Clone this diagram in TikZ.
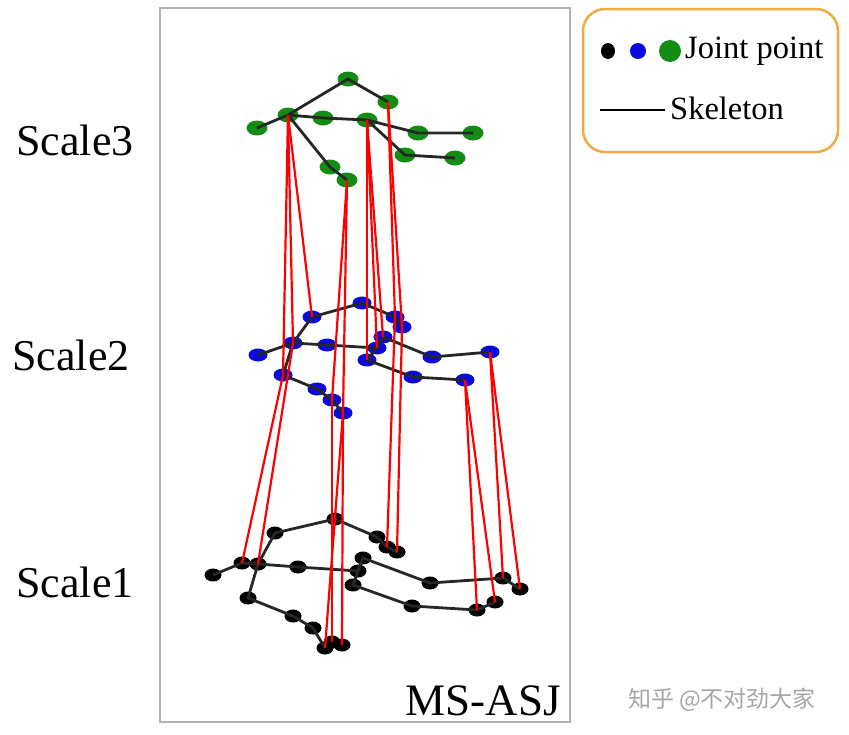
\documentclass[tikz,border=0pt]{standalone}
\usepackage{fontspec}
\setmainfont{Liberation Serif}
\newfontfamily\cjk{Noto Sans CJK SC}
\usetikzlibrary{shapes.geometric}
\definecolor{gj}{RGB}{20,140,20}
\definecolor{bj}{RGB}{10,10,220}
\definecolor{orng}{RGB}{240,170,70}
\tikzset{x=1pt,y=-1pt,
 gdot/.style={ellipse,fill=gj,minimum width=21pt,minimum height=15pt,inner sep=0pt},
 bdot/.style={ellipse,fill=bj,minimum width=19pt,minimum height=13pt,inner sep=0pt},
 kdot/.style={ellipse,fill=black,minimum width=17pt,minimum height=13pt,inner sep=0pt},
 skel/.style={black!85,line width=2.8pt},
 link/.style={red,line width=2.2pt},
 lbl/.style={font=\fontsize{44}{48}\selectfont,anchor=center}}
\begin{document}
\begin{tikzpicture}
\useasboundingbox (0,0) rectangle (849,734);
\draw[black!30,line width=2.5pt] (160,8) rectangle (570,722);
% green
\foreach \n/\x/\y in {g1/348/79,g2/388/102,g3/288/115,g4/257/128,g5/323/118,g6/367/120,g7/418/133,g8/473/133,g9/405/155,g10/455/158,g11/330/167,g12/347/180}
  \node[gdot] (\n) at (\x,\y) {};
% blue
\foreach \n/\x/\y in {b1/362/303,b2/312/317,b3/395/317,b4/402/327,b5/293/343,b6/258/355,b7/327/345,b8/383/337,b9/377/348,b10/367/360,b11/432/357,b12/490/352,b13/413/377,b14/465/380,b15/283/375,b16/317/389,b17/332/400,b18/343/413}
  \node[bdot] (\n) at (\x,\y) {};
% black
\foreach \n/\x/\y in {k1/335/519,k2/275/533,k3/377/537,k4/387/547,k5/397/552,k6/242/563,k7/258/564,k8/213/575,k9/298/567,k10/363/558,k11/358/571,k12/353/585,k13/430/583,k14/503/578,k15/520/589,k16/412/606,k17/477/610,k18/495/602,k19/248/598,k20/293/616,k21/313/628,k22/325/648,k23/342/645,k24/332/642}
  \node[kdot] (\n) at (\x,\y) {};
% skeletons
\draw[skel] (g4.center)--(g3.center)--(g1.center)--(g2.center);
\draw[skel] (g3.center)--(g5.center)--(g6.center)--(g7.center)--(g8.center);
\draw[skel] (g6.center)--(g9.center)--(g10.center);
\draw[skel] (g3.center)--(g11.center)--(g12.center);
\draw[skel] (b6.center)--(b5.center)--(b2.center)--(b1.center)--(b3.center)--(b4.center);
\draw[skel] (b5.center)--(b7.center)--(b9.center)--(b8.center)--(b11.center)--(b12.center);
\draw[skel] (b9.center)--(b10.center)--(b13.center)--(b14.center);
\draw[skel] (b5.center)--(b15.center)--(b16.center)--(b17.center)--(b18.center);
\draw[skel] (k8.center)--(k6.center)--(k7.center)--(k2.center)--(k1.center)--(k3.center)--(k4.center)--(k5.center);
\draw[skel] (k7.center)--(k9.center)--(k11.center)--(k10.center)--(k13.center)--(k14.center)--(k15.center);
\draw[skel] (k11.center)--(k12.center)--(k16.center)--(k17.center)--(k18.center);
\draw[skel] (k7.center)--(k19.center)--(k20.center)--(k21.center)--(k22.center);
% links
\foreach \a/\b in {g3/b15,g3/b5,g3/b2,g12/b17,g12/b18,g6/b10,g6/b9,g6/b8,g2/b3,g2/b4,b15/k6,b5/k7,b18/k22,b18/k23,b17/k24,b3/k4,b4/k5,b14/k17,b14/k18,b12/k14,b12/k15}
  \draw[link] (\a.center)--(\b.center);
% labels
\node[lbl] (s3) at (75,140) {Scale3};
\node[lbl] (s2) at (71,355) {Scale2};
\node[lbl] (s1) at (75,582) {Scale1};
\node[font=\fontsize{45}{48}\selectfont,anchor=south east,inner sep=0pt] (ms) at (561,716) {MS-ASJ};
% legend
\draw[orng,line width=2.5pt,rounded corners=22pt] (583,9) rectangle (838,152);
\node[kdot,minimum width=14pt,minimum height=16pt] (lk) at (608,51) {};
\node[bdot,minimum width=16pt,minimum height=16pt] (lb) at (638,51) {};
\node[gdot,minimum width=22pt,minimum height=22pt] (lg) at (670,51) {};
\node[font=\fontsize{32.5}{35}\selectfont,anchor=west,inner sep=0pt] (jp) at (685,51) {Joint point};
\coordinate (la) at (600,110);
\coordinate (lz) at (665,110);
\draw[black,line width=1.2pt] (la)--(lz);
\node[font=\fontsize{32.5}{35}\selectfont,anchor=west,inner sep=0pt] (sk) at (670,108) {Skeleton};
\node[font=\cjk\fontsize{23}{25}\selectfont,text=black!35,anchor=center] (wm) at (722,700) {知乎 @不对劲大家};
\end{tikzpicture}
\end{document}
